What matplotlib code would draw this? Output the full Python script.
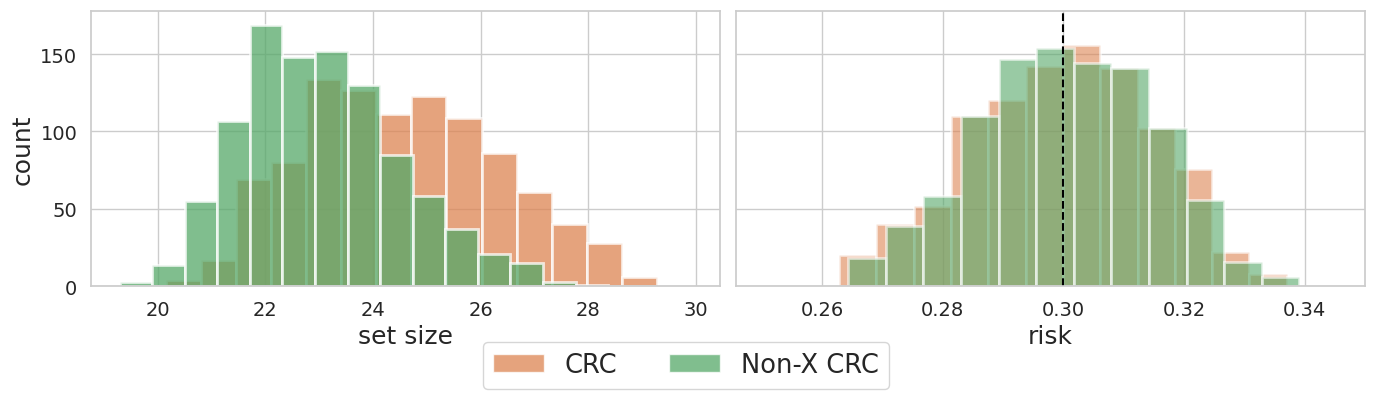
import numpy as np
import matplotlib
matplotlib.use("Agg")
import matplotlib.pyplot as plt
import seaborn as sns
from matplotlib.patches import Patch

# histogram counts (bins are equal width, given by start + width)
# set size panel
crc_set_start, crc_set_width = 20.145, 0.6526
crc_set_counts = [4, 17, 69, 80, 134, 127, 111, 123, 109, 86, 61, 40, 28, 6]
nonx_set_start, nonx_set_width = 19.288, 0.6056
nonx_set_counts = [3, 14, 55, 107, 169, 148, 152, 130, 85, 58, 37, 21, 15, 3, 1]

# risk panel
crc_risk_start, crc_risk_width = 0.26282, 0.006185
crc_risk_counts = [20, 40, 52, 110, 120, 142, 156, 141, 102, 76, 22, 8]
nonx_risk_start, nonx_risk_width = 0.26433, 0.006234
nonx_risk_counts = [18, 39, 58, 110, 147, 154, 144, 141, 102, 56, 16, 6]

target_risk = 0.30
labels = ["CRC", "Non-X CRC"]

sns.set_theme(style="whitegrid")
pal = sns.color_palette("deep")
c_crc, c_nonx = pal[1], pal[2]


def draw_hist(ax, start, width, counts, color, alpha):
    edges = start + width * np.arange(len(counts))
    ax.bar(edges, counts, width=width, align="edge", color=color,
           alpha=alpha, edgecolor="white", linewidth=2)


fig, (ax1, ax2) = plt.subplots(1, 2, figsize=(13.8, 4.02), dpi=100, sharey=True)
fig.subplots_adjust(left=0.0657, right=0.9891, top=0.971, bottom=0.2853, wspace=0.0254)

draw_hist(ax1, crc_set_start, crc_set_width, crc_set_counts, c_crc, 0.75)
draw_hist(ax1, nonx_set_start, nonx_set_width, nonx_set_counts, c_nonx, 0.75)
draw_hist(ax2, crc_risk_start, crc_risk_width, crc_risk_counts, c_crc, 0.6)
draw_hist(ax2, nonx_risk_start, nonx_risk_width, nonx_risk_counts, c_nonx, 0.6)
ax2.axvline(target_risk, color="black", linestyle="--", linewidth=1.5)

ax1.set_xlim(18.75, 30.45)
ax1.set_xticks([20, 22, 24, 26, 28, 30])
ax2.set_xlim(0.2457, 0.3500)
ax2.set_xticks([0.26, 0.28, 0.30, 0.32, 0.34])
ax1.set_ylim(0, 178)
ax1.set_yticks([0, 50, 100, 150])

ax1.set_xlabel("set size", fontsize=18)
ax2.set_xlabel("risk", fontsize=18)
ax1.set_ylabel("count", fontsize=18)
ax2.set_ylabel("")
for ax in (ax1, ax2):
    ax.tick_params(axis="both", which="major", labelsize=14)

handles = [Patch(facecolor=c_crc, alpha=0.75), Patch(facecolor=c_nonx, alpha=0.75)]
fig.legend(handles, labels, loc="center", bbox_to_anchor=(0.497, 0.0885),
           ncol=2, fontsize=18.5, frameon=True)

plt.savefig("out.png", dpi=100)
